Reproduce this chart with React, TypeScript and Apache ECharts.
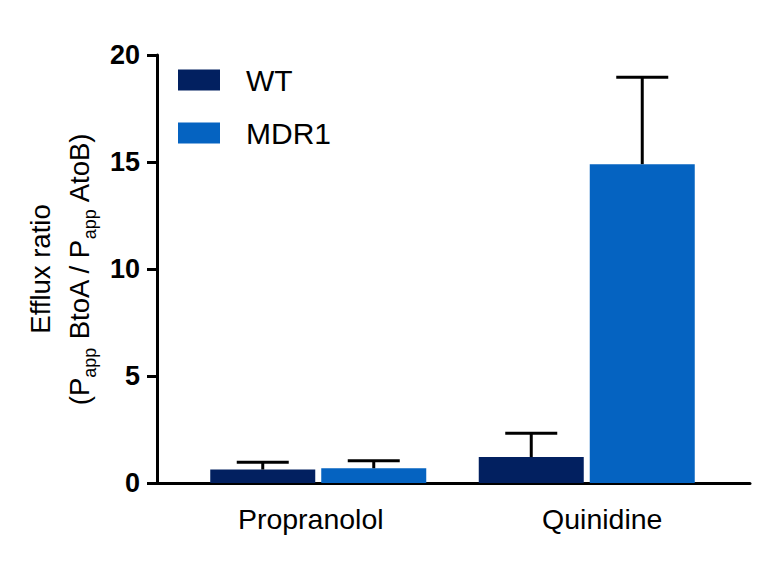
import { useEffect, useRef } from 'react'
import * as echarts from 'echarts'

const categories = ['Propranolol', 'Quinidine']
const wtValues = [0.63, 1.21]
const wtErrors = [0.34, 1.11]
const mdr1Values = [0.69, 14.9]
const mdr1Errors = [0.35, 4.06]
const yTicks = [0, 5, 10, 15, 20]

const WT_COLOR = '#022060'
const MDR1_COLOR = '#0563c1'
const FONT = 'Arial, "Liberation Sans", Helvetica, sans-serif'

const BAR_WIDTH = 105
const BAR_GAP = 6
const CAP_HALF = 26

function errorSeries(values: number[], errors: number[], offset: number) {
  return {
    type: 'custom',
    xAxisIndex: 0,
    yAxisIndex: 0,
    z: 3,
    renderItem: (_params: any, api: any) => {
      const idx = api.value(0)
      const v = api.value(1)
      const e = api.value(2)
      const base = api.coord([idx, v])
      const top = api.coord([idx, v + e])
      const cx = base[0] + offset
      const style = { stroke: '#000', lineWidth: 3 }
      return {
        type: 'group',
        children: [
          { type: 'line', shape: { x1: cx, y1: base[1], x2: cx, y2: top[1] }, style },
          { type: 'line', shape: { x1: cx - CAP_HALF, y1: top[1], x2: cx + CAP_HALF, y2: top[1] }, style }
        ]
      }
    },
    data: categories.map((_c, i) => [i, values[i], errors[i]])
  }
}

export default function App() {
  const chartRef = useRef<HTMLDivElement>(null)

  useEffect(() => {
    if (!chartRef.current) return
    const chart = echarts.init(chartRef.current, undefined, { renderer: 'svg' })

    const half = (BAR_WIDTH + BAR_GAP) / 2

    const option: any = {
      animation: false,
      textStyle: { fontFamily: FONT },
      legend: {
        data: ['WT', 'MDR1'],
        orient: 'vertical',
        left: 178,
        top: 65,
        icon: 'rect',
        itemWidth: 42,
        itemHeight: 21,
        itemGap: 23,
        padding: 0,
        textStyle: {
          fontFamily: FONT,
          fontSize: 30,
          lineHeight: 30,
          color: '#000',
          padding: [0, 0, 0, 21]
        }
      },
      grid: [
        { left: 184, right: 47, top: 55, bottom: 79 },
        { left: 157, right: 18, top: 55, bottom: 79 }
      ],
      xAxis: [
        {
          type: 'category',
          gridIndex: 0,
          data: [
            { value: categories[0], textStyle: { padding: [0, 15, 0, 0] } },
            { value: categories[1], textStyle: { padding: [0, 0, 0, 31] } }
          ],
          axisLine: { show: false },
          axisTick: { show: false },
          axisLabel: {
            fontFamily: FONT,
            fontSize: 28.5,
            color: '#000',
            margin: 21
          }
        },
        {
          type: 'value',
          gridIndex: 1,
          min: 0,
          max: 1,
          axisLine: { show: true, lineStyle: { color: '#000', width: 3 } },
          axisTick: { show: false },
          axisLabel: { show: false },
          splitLine: { show: false }
        }
      ],
      yAxis: [
        {
          type: 'value',
          gridIndex: 0,
          min: 0,
          max: 20,
          show: false
        },
        {
          type: 'value',
          gridIndex: 1,
          min: yTicks[0],
          max: yTicks[yTicks.length - 1],
          interval: 5,
          axisLine: { show: true, lineStyle: { color: '#000', width: 3 } },
          axisTick: { show: true, length: 10, lineStyle: { color: '#000', width: 3 } },
          axisLabel: {
            fontFamily: FONT,
            fontSize: 27,
            fontWeight: 'bold',
            color: '#000',
            margin: 17
          },
          splitLine: { show: false },
          name: '{t|Efflux ratio}\n{t|(P}{s|app}{t| BtoA / P}{s|app}{t| AtoB)}',
          nameLocation: 'middle',
          nameRotate: 90,
          nameGap: 56,
          nameTextStyle: {
            fontFamily: FONT,
            color: '#000',
            rich: {
              t: { fontFamily: FONT, fontSize: 27.5, lineHeight: 39, color: '#000' },
              s: { fontFamily: FONT, fontSize: 18, lineHeight: 18, color: '#000', verticalAlign: 'bottom' }
            }
          }
        }
      ],
      series: [
        {
          name: 'WT',
          type: 'bar',
          xAxisIndex: 0,
          yAxisIndex: 0,
          barWidth: BAR_WIDTH,
          barGap: `${(BAR_GAP / BAR_WIDTH) * 100}%`,
          itemStyle: { color: WT_COLOR },
          data: wtValues
        },
        {
          name: 'MDR1',
          type: 'bar',
          xAxisIndex: 0,
          yAxisIndex: 0,
          barWidth: BAR_WIDTH,
          barGap: `${(BAR_GAP / BAR_WIDTH) * 100}%`,
          itemStyle: { color: MDR1_COLOR },
          data: mdr1Values
        },
        errorSeries(wtValues, wtErrors, -half),
        errorSeries(mdr1Values, mdr1Errors, half)
      ]
    }

    chart.setOption(option)

    return () => {
      chart.dispose()
    }
  }, [])

  return (
    <div
      ref={chartRef}
      style={{ position: 'absolute', left: 0, top: 0, width: 768, height: 562, background: '#fff' }}
    />
  )
}
